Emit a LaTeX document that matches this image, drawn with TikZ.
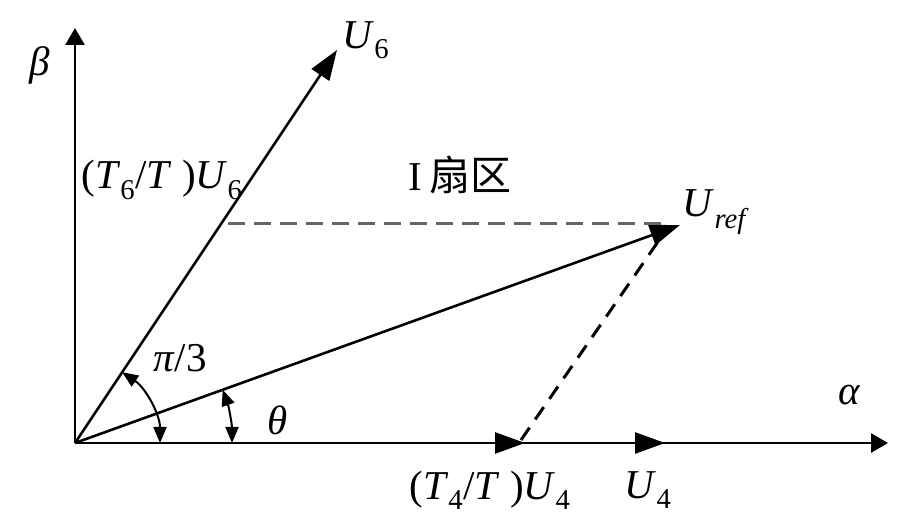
\documentclass[tikz,border=0pt]{standalone}
\usepackage{fontspec}
\setmainfont{Liberation Serif}
\newfontfamily\cjk{Noto Sans CJK SC}
\usetikzlibrary{arrows.meta}
\begin{document}
\begin{tikzpicture}[x=1pt,y=1pt,
  vec/.style={line width=2.6pt,-{Triangle[length=30pt,width=21pt]}},
  axis/.style={line width=2.8pt,-{Triangle[length=17pt,width=19pt]}},
  dline/.style={line width=3pt,dash pattern=on 17pt off 9pt},
  angarc/.style={line width=2pt,{Triangle[length=16pt,width=13pt]}-{Triangle[length=16pt,width=13pt]}},
  lbl/.style={inner sep=0pt,font=\fontsize{41}{46}\selectfont}]
\useasboundingbox (0,0) rectangle (901,516);
\coordinate (O) at (75,73);
\coordinate (B) at (75,488);
\coordinate (A) at (888,73);
\coordinate (U6) at (337,466);
\coordinate (Ur) at (680,291);
\coordinate (T4) at (525,73);
\coordinate (U4) at (665,73);
\coordinate (P6) at (228,292);
\coordinate (D1) at (668,292);
\coordinate (D2s) at (521,76);
\coordinate (D2e) at (664,283);
\draw[axis] (O) -- (B);
\draw[axis] (O) -- (A);
\draw[vec] (O) -- (U6);
\draw[vec] (O) -- (Ur);
\draw[vec] (O) -- (T4);
\draw[vec] (T4) -- (U4);
\draw[dline,draw=black!60] (P6) -- (D1);
\draw[dline,dash pattern=on 15pt off 10pt] (D2s) -- (D2e);
\draw[angarc] ([shift={(56.3:85)}]O) arc[start angle=56.3,end angle=0,radius=85];
\draw[angarc] ([shift={(19.8:157)}]O) arc[start angle=19.8,end angle=0,radius=157];
\node[lbl] (lb) at (40,451) {\textit{β}};
\node[lbl] (l6) at (366,476) {\textit{U}\textsubscript{6}};
\node[lbl] (lt6) at (162,336) {(\textit{T}\textsubscript{6}/\textit{T} )\textit{U}\textsubscript{6}};
\node[lbl] (ls) at (460,341) {I\,{\cjk 扇区}};
\node[lbl] (lr) at (716,304) {\textit{U}\textsubscript{\textit{ref}}};
\node[lbl] (la) at (850,121) {\textit{α}};
\node[lbl] (lp) at (180,158) {\textit{π}/3};
\node[lbl] (lth) at (278,96) {\textit{θ}};
\node[lbl] (lt4) at (490,26) {(\textit{T}\textsubscript{4}/\textit{T} )\textit{U}\textsubscript{4}};
\node[lbl] (l4) at (648,26) {\textit{U}\textsubscript{4}};
\end{tikzpicture}
\end{document}
